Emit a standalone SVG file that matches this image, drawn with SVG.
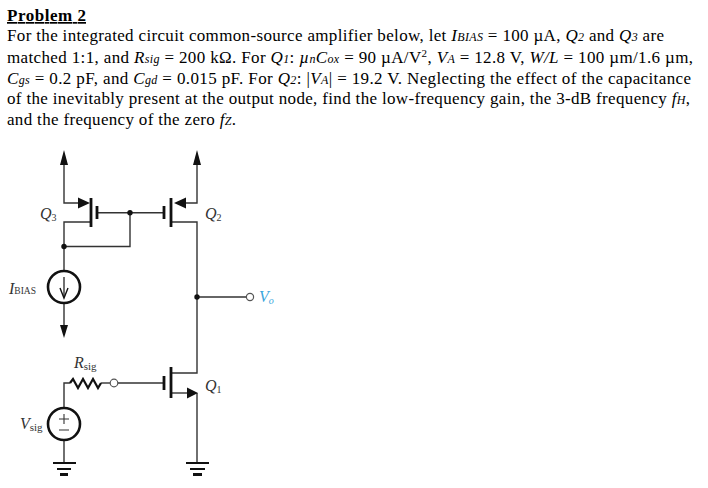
<svg xmlns="http://www.w3.org/2000/svg" width="708" height="488" viewBox="0 0 708 488">
<style>
text{font-family:"Liberation Serif","Times New Roman",serif;fill:#000}
.p{font-size:17px}
.i{font-style:italic}
.s{font-style:italic;font-size:12px}
.u{font-size:11px;baseline-shift:super}
.l{fill:#333;font-size:16px}
.w{fill:none;stroke:#333;stroke-width:1.4}
.b{fill:none;stroke:#111;stroke-width:2.800}
.c{fill:#fff;stroke:#111;stroke-width:2.600}
.o{fill:#fff;stroke:#555;stroke-width:1.200}
.d{fill:#111}
</style>
<g id="problem-text">
<text x="7" y="21" class="p" font-weight="bold" text-decoration="underline" textLength="79">Problem 2</text>
<text x="7" y="41" class="p" textLength="657">For the integrated circuit common-source amplifier below, let <tspan class="i">I</tspan><tspan class="s">BIAS</tspan> = 100 µA, <tspan class="i">Q</tspan><tspan class="s">2</tspan> and <tspan class="i">Q</tspan><tspan class="s">3</tspan> are</text>
<text x="7" y="63" class="p" textLength="686">matched 1:1, and <tspan class="i">R</tspan><tspan class="s">sig</tspan> = 200 kΩ. For <tspan class="i">Q</tspan><tspan class="s">1</tspan>: <tspan class="i">µ</tspan><tspan class="s">n</tspan><tspan class="i">C</tspan><tspan class="s">ox</tspan> = 90 µA/V<tspan class="u">2</tspan>, <tspan class="i">V</tspan><tspan class="s">A</tspan> = 12.8 V, <tspan class="i">W/L</tspan> = 100 µm/1.6 µm,</text>
<text x="7" y="84" class="p" textLength="684"><tspan class="i">C</tspan><tspan class="s">gs</tspan> = 0.2 pF, and <tspan class="i">C</tspan><tspan class="s">gd</tspan> = 0.015 pF. For <tspan class="i">Q</tspan><tspan class="s">2</tspan>: |<tspan class="i">V</tspan><tspan class="s">A</tspan>| = 19.2 V. Neglecting the effect of the capacitance</text>
<text x="7" y="104" class="p" textLength="683">of the inevitably present at the output node, find the low-frequency gain, the 3-dB frequency <tspan class="i">f</tspan><tspan class="s">H</tspan>,</text>
<text x="7" y="125" class="p" textLength="229">and the frequency of the zero <tspan class="i">f</tspan><tspan class="s">Z</tspan>.</text>
</g>
<g id="connectors" class="w">
<path d="M64 160V203H80"/>
<path d="M197 160V203H184"/>
<path d="M91 222H64V330"/>
<path d="M64 246.500H130V212.700"/>
<path d="M97 212.700H164"/>
<path d="M171 222H197V373H171"/>
<path d="M197 297H246"/>
<path d="M171 393H188"/>
<path d="M197 393V463"/>
<path d="M64 408V383H70"/>
<path d="M101 383H110"/>
<path d="M118 383H164"/>
<path d="M64 440V463"/>
</g>
<g id="arrowheads" class="d">
<path d="M64 150L60 165H68Z"/>
<path d="M197 150L193 165H201Z"/>
<path d="M90 203L78 197.500V208.500Z"/>
<path d="M174 203L186 197.500V208.500Z"/>
<path d="M64 338L60 325H68Z"/>
<path d="M198 393L187 387.500V398.500Z"/>
</g>
<g id="Q3">
<path class="b" d="M91 198V227M97 206V219"/>
<text x="40" y="219" class="l i">Q<tspan font-size="10px" font-style="normal" dy="2">3</tspan></text>
</g>
<g id="Q2">
<path class="b" d="M171 198V227M164 206V219"/>
<text x="205" y="219" class="l i">Q<tspan font-size="10px" font-style="normal" dy="2">2</tspan></text>
</g>
<g id="Q1">
<path class="b" d="M171 367V398M164 376V390"/>
<text x="205" y="391" class="l i">Q<tspan font-size="10px" font-style="normal" dy="2">1</tspan></text>
</g>
<g id="node-junctions" class="d">
<circle cx="130" cy="212.700" r="2.700"/>
<circle cx="64" cy="246.500" r="2.700"/>
<circle cx="197" cy="297" r="2.700"/>
</g>
<g id="Ibias">
<circle class="c" cx="64" cy="287" r="16"/>
<path class="w" d="M64 277V296"/>
<path fill="none" stroke="#111" stroke-width="1.400" d="M60 288L64 298L68 288"/>
<text x="36" y="294" class="l i" text-anchor="end" font-size="14">I<tspan font-size="9.500px" font-style="normal">BIAS</tspan></text>
</g>
<g id="Vo">
<circle class="o" cx="250" cy="297" r="3.600"/>
<text x="259" y="302" font-size="16" style="fill:#3aa6dc" class="i">V<tspan font-size="10px" dy="2">o</tspan></text>
</g>
<g id="Rsig">
<path fill="none" stroke="#111" stroke-width="2.200" d="M70 383L73 379L78 388L83 379L88 388L93 379L98 388L101 383"/>
<circle class="o" cx="114" cy="383" r="3.800"/>
<text x="74" y="368" class="l i">R<tspan font-size="11px" font-style="normal" dy="2">sig</tspan></text>
</g>
<g id="Vsig">
<circle class="c" cx="64" cy="424" r="16"/>
<path fill="none" stroke="#333" stroke-width="1.100" d="M59 419H69M64 414V424M59 430H69"/>
<text x="20" y="429" class="l i">V<tspan font-size="11px" font-style="normal" dy="2">sig</tspan></text>
</g>
<g id="ground-left" fill="none" stroke="#111">
<path stroke-width="2" d="M53 463H76M57 469H71"/>
<path stroke-width="3" d="M60 474.500H68"/>
</g>
<g id="ground-right" fill="none" stroke="#111">
<path stroke-width="2" d="M186 463H209M190 469H205"/>
<path stroke-width="3" d="M193 474.500H202"/>
</g>
</svg>
